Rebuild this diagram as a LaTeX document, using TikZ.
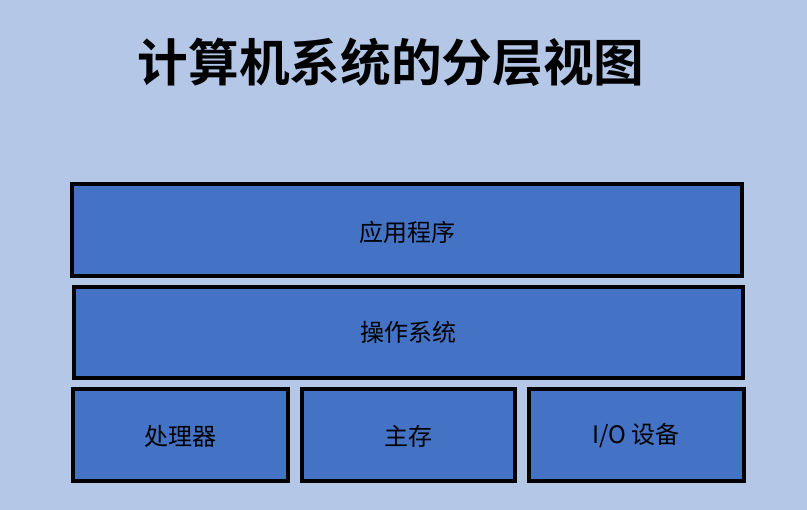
\documentclass[tikz,border=0pt]{standalone}
\usepackage{fontspec}
\setmainfont{Noto Sans CJK SC}
\newfontfamily\titlefont{Noto Sans CJK SC Bold}
\definecolor{pagebg}{HTML}{B4C7E7}
\definecolor{layerblue}{HTML}{4472C4}
\begin{document}
\begin{tikzpicture}[x=0.75pt,y=-0.75pt,
  layer/.style={draw=black,line width=2.6pt,fill=layerblue},
  layertext/.style={font=\fontsize{18pt}{20pt}\selectfont,text=black}]
\fill [pagebg](0,0) rectangle (807,510);
\useasboundingbox (0,0) rectangle (807,510);
\node (title) at (391,62) {\titlefont\fontsize{38pt}{42pt}\selectfont 计算机系统的分层视图};
\draw [layer](72,184) rectangle (742,276);
\node (app) [layertext] at (407,232) {应用程序};
\draw [layer](74,287) rectangle (743,378);
\node (os) [layertext] at (408,332) {操作系统};
\draw [layer](73,389) rectangle (288,481);
\node (cpu) [layertext] at (180,436) {处理器};
\draw [layer](302,389) rectangle (515,481);
\node (mem) [layertext] at (408,436) {主存};
\draw [layer](529,389) rectangle (744,481);
\node (io) [layertext] at (636,436) {I/O 设备};
\end{tikzpicture}
\end{document}
